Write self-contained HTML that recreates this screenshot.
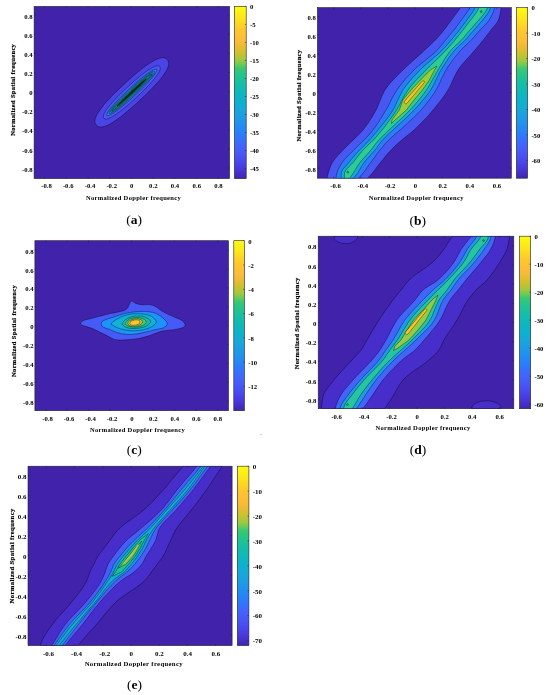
<!DOCTYPE html>
<html><head><meta charset="utf-8"><title>Figure</title>
<style>html,body{margin:0;padding:0;background:#fff}svg{display:block}</style>
</head><body>
<svg width="550" height="695" viewBox="0 0 550 695">
<rect width="550" height="695" fill="#fff"/>
<defs><linearGradient id="par" x1="0" y1="0" x2="0" y2="1"><stop offset="0%" stop-color="#fdfa10"/><stop offset="6%" stop-color="#fde81a"/><stop offset="10%" stop-color="#fdd624"/><stop offset="14%" stop-color="#fec62e"/><stop offset="20%" stop-color="#fcbb3a"/><stop offset="23.5%" stop-color="#e9bc32"/><stop offset="27%" stop-color="#cdc12e"/><stop offset="31%" stop-color="#a2c83e"/><stop offset="33.5%" stop-color="#6ecb56"/><stop offset="36%" stop-color="#38c872"/><stop offset="40%" stop-color="#24c58a"/><stop offset="43.5%" stop-color="#18c0a0"/><stop offset="50%" stop-color="#0eb8bc"/><stop offset="55%" stop-color="#0cb2cd"/><stop offset="60%" stop-color="#18a8d9"/><stop offset="67.4%" stop-color="#2094ec"/><stop offset="73.4%" stop-color="#2880fa"/><stop offset="78%" stop-color="#386efd"/><stop offset="82%" stop-color="#4661fb"/><stop offset="86%" stop-color="#4856f6"/><stop offset="90%" stop-color="#4948ed"/><stop offset="94%" stop-color="#483add"/><stop offset="97%" stop-color="#462ec8"/><stop offset="100%" stop-color="#4124b0"/></linearGradient></defs>
<clipPath id="cla"><rect x="34.1" y="6.4" width="195.5" height="172.2"/></clipPath>
<rect x="34.1" y="6.4" width="195.5" height="172.2" fill="#4122ab"/>
<g clip-path="url(#cla)" stroke="#000" stroke-opacity="0.72" stroke-width="0.5" stroke-linejoin="round">
<path d="M167.1 59.6L168.1 60.9L168.6 62L168.7 63.3L168.6 64.7L168.3 66.2L167.6 67.9L166.8 69.7L165.7 71.7L164.3 73.8L162.8 76L160.9 78.4L158.9 80.9L156.6 83.5L154 86.3L151.2 89.3L148 92.4L144.4 95.9L139.4 100.6L134.4 105.2L130.6 108.6L127.2 111.5L124.1 114.1L121.1 116.5L118.3 118.6L115.7 120.4L113.2 122.1L110.8 123.5L108.6 124.7L106.6 125.6L104.7 126.4L103 126.8L101.4 127.1L100 127.1L98.8 126.8L97.7 126.3L96.5 125.2L95.5 123.9L95 122.8L94.9 121.5L95 120.1L95.3 118.6L96 116.9L96.8 115.1L97.9 113.1L99.3 111L100.8 108.8L102.7 106.4L104.7 103.9L107 101.3L109.6 98.5L112.4 95.5L115.6 92.4L119.2 88.9L124.2 84.2L129.2 79.6L133 76.2L136.4 73.3L139.5 70.7L142.5 68.3L145.3 66.2L147.9 64.4L150.4 62.7L152.8 61.3L155 60.1L157 59.2L158.9 58.4L160.6 58L162.2 57.7L163.6 57.7L164.8 58L165.9 58.5Z" fill="#4a44e6"/>
<path d="M159.6 66.5L160.1 67.2L160.3 68L160.2 68.8L160 69.9L159.5 71L158.9 72.3L158.1 73.7L157 75.3L155.8 76.9L154.4 78.7L152.9 80.6L151.1 82.6L149.2 84.7L147.1 86.9L144.9 89.2L142.4 91.7L139.7 94.3L136.4 97.4L133.1 100.5L130.3 103L127.7 105.2L125.2 107.3L122.9 109.2L120.6 111L118.5 112.5L116.5 114L114.6 115.2L112.9 116.3L111.3 117.2L109.8 118L108.4 118.5L107.3 118.9L106.2 119L105.3 119L104.6 118.8L104 118.3L103.5 117.6L103.3 116.8L103.4 116L103.6 114.9L104.1 113.8L104.7 112.5L105.5 111.1L106.6 109.5L107.8 107.9L109.2 106.1L110.7 104.2L112.5 102.2L114.4 100.1L116.5 97.9L118.7 95.6L121.2 93.1L123.9 90.5L127.2 87.4L130.5 84.3L133.3 81.8L135.9 79.6L138.4 77.5L140.7 75.6L143 73.8L145.1 72.3L147.1 70.8L149 69.6L150.7 68.5L152.3 67.6L153.8 66.8L155.2 66.3L156.3 65.9L157.4 65.8L158.3 65.8L159 66Z" fill="#4858f4"/>
<ellipse cx="131.8" cy="92.4" rx="34" ry="4.3" transform="rotate(-42.9 131.8 92.4)" fill="#2f7cf8"/>
<ellipse cx="131.8" cy="92.4" rx="31" ry="3.3" transform="rotate(-42.9 131.8 92.4)" fill="#1f9fe0"/>
<ellipse cx="131.8" cy="92.4" rx="29" ry="2.5" transform="rotate(-42.9 131.8 92.4)" fill="#17a8b8"/>
<ellipse cx="131.8" cy="92.4" rx="27" ry="1.7" transform="rotate(-42.9 131.8 92.4)" fill="#15806a"/>
<ellipse cx="131.8" cy="92.4" rx="20" ry="0.9" transform="rotate(-42.9 131.8 92.4)" fill="#10281c"/>
</g>
<rect x="34.1" y="6.4" width="195.5" height="172.2" fill="none" stroke="#222" stroke-width="0.6"/>
<text x="46.5" y="187.9" font-size="6.7" text-anchor="middle" font-family="Liberation Serif,serif" font-weight="bold">-0.8</text>
<text x="68.2" y="187.9" font-size="6.7" text-anchor="middle" font-family="Liberation Serif,serif" font-weight="bold">-0.6</text>
<text x="90" y="187.9" font-size="6.7" text-anchor="middle" font-family="Liberation Serif,serif" font-weight="bold">-0.4</text>
<text x="111.7" y="187.9" font-size="6.7" text-anchor="middle" font-family="Liberation Serif,serif" font-weight="bold">-0.2</text>
<text x="131.6" y="187.9" font-size="6.7" text-anchor="middle" font-family="Liberation Serif,serif" font-weight="bold">0</text>
<text x="153.3" y="187.9" font-size="6.7" text-anchor="middle" font-family="Liberation Serif,serif" font-weight="bold">0.2</text>
<text x="175" y="187.9" font-size="6.7" text-anchor="middle" font-family="Liberation Serif,serif" font-weight="bold">0.4</text>
<text x="196.8" y="187.9" font-size="6.7" text-anchor="middle" font-family="Liberation Serif,serif" font-weight="bold">0.6</text>
<text x="218.5" y="187.9" font-size="6.7" text-anchor="middle" font-family="Liberation Serif,serif" font-weight="bold">0.8</text>
<text x="32.6" y="171.6" font-size="6.7" text-anchor="end" font-family="Liberation Serif,serif" font-weight="bold">-0.8</text>
<text x="32.6" y="152.5" font-size="6.7" text-anchor="end" font-family="Liberation Serif,serif" font-weight="bold">-0.6</text>
<text x="32.6" y="133.4" font-size="6.7" text-anchor="end" font-family="Liberation Serif,serif" font-weight="bold">-0.4</text>
<text x="32.6" y="114.2" font-size="6.7" text-anchor="end" font-family="Liberation Serif,serif" font-weight="bold">-0.2</text>
<text x="32.6" y="95.1" font-size="6.7" text-anchor="end" font-family="Liberation Serif,serif" font-weight="bold">0</text>
<text x="32.6" y="76" font-size="6.7" text-anchor="end" font-family="Liberation Serif,serif" font-weight="bold">0.2</text>
<text x="32.6" y="56.8" font-size="6.7" text-anchor="end" font-family="Liberation Serif,serif" font-weight="bold">0.4</text>
<text x="32.6" y="37.7" font-size="6.7" text-anchor="end" font-family="Liberation Serif,serif" font-weight="bold">0.6</text>
<text x="32.6" y="18.6" font-size="6.7" text-anchor="end" font-family="Liberation Serif,serif" font-weight="bold">0.8</text>
<path d="M44.5 178.6v-1.6M44.5 6.4v1.6M66.2 178.6v-1.6M66.2 6.4v1.6M88 178.6v-1.6M88 6.4v1.6M109.7 178.6v-1.6M109.7 6.4v1.6M131.4 178.6v-1.6M131.4 6.4v1.6M153.1 178.6v-1.6M153.1 6.4v1.6M174.8 178.6v-1.6M174.8 6.4v1.6M196.6 178.6v-1.6M196.6 6.4v1.6M218.3 178.6v-1.6M218.3 6.4v1.6M34.1 168.1h1.6M229.6 168.1h-1.6M34.1 149h1.6M229.6 149h-1.6M34.1 129.9h1.6M229.6 129.9h-1.6M34.1 110.7h1.6M229.6 110.7h-1.6M34.1 91.6h1.6M229.6 91.6h-1.6M34.1 72.5h1.6M229.6 72.5h-1.6M34.1 53.3h1.6M229.6 53.3h-1.6M34.1 34.2h1.6M229.6 34.2h-1.6M34.1 15.1h1.6M229.6 15.1h-1.6" stroke="#222" stroke-width="0.5" fill="none"/>
<text x="133.5" y="200" font-size="6.5" text-anchor="middle" letter-spacing="0.32" font-family="Liberation Serif,serif" font-weight="bold">Normalized Doppler frequency</text>
<text transform="translate(15.2 89.8) rotate(-90)" font-size="6.5" text-anchor="middle" letter-spacing="0.32" stroke="#000" stroke-width="0.18" font-family="Liberation Serif,serif" font-weight="bold">Normalized Spatial frequency</text>
<rect x="234.4" y="6.4" width="11.8" height="172.2" fill="url(#par)" stroke="#222" stroke-width="0.6"/>
<text x="250" y="9.2" font-size="6.7" font-family="Liberation Serif,serif" font-weight="bold">0</text>
<text x="250" y="27.2" font-size="6.7" font-family="Liberation Serif,serif" font-weight="bold">-5</text>
<text x="250" y="45.2" font-size="6.7" font-family="Liberation Serif,serif" font-weight="bold">-10</text>
<text x="250" y="63.2" font-size="6.7" font-family="Liberation Serif,serif" font-weight="bold">-15</text>
<text x="250" y="81.3" font-size="6.7" font-family="Liberation Serif,serif" font-weight="bold">-20</text>
<text x="250" y="99.3" font-size="6.7" font-family="Liberation Serif,serif" font-weight="bold">-25</text>
<text x="250" y="117.3" font-size="6.7" font-family="Liberation Serif,serif" font-weight="bold">-30</text>
<text x="250" y="135.3" font-size="6.7" font-family="Liberation Serif,serif" font-weight="bold">-35</text>
<text x="250" y="153.3" font-size="6.7" font-family="Liberation Serif,serif" font-weight="bold">-40</text>
<text x="250" y="171.3" font-size="6.7" font-family="Liberation Serif,serif" font-weight="bold">-45</text>
<path d="M246.2 6.4h-1.4M246.2 24.4h-1.4M246.2 42.4h-1.4M246.2 60.4h-1.4M246.2 78.5h-1.4M246.2 96.5h-1.4M246.2 114.5h-1.4M246.2 132.5h-1.4M246.2 150.5h-1.4M246.2 168.5h-1.4" stroke="#222" stroke-width="0.5" fill="none"/>
<text x="134.2" y="224.3" font-size="13.5" text-anchor="middle" font-family="Liberation Serif,serif">(<tspan font-weight="bold">a</tspan>)</text>
<clipPath id="clb"><rect x="317.4" y="7.6" width="193.9" height="170.6"/></clipPath>
<rect x="317.4" y="7.6" width="193.9" height="170.6" fill="#4122ab"/>
<g clip-path="url(#clb)" stroke="#000" stroke-opacity="0.72" stroke-width="0.5" stroke-linejoin="round">
<path d="M466.8 -2L465 0.7L463.2 3.4L461.4 6.2L459.6 8.9L457.8 11.6L455.8 14.3L453.7 17.1L451.7 19.8L449.6 22.5L447.6 25.2L445.6 28L443.4 30.7L441.2 33.4L438.9 36.1L436.5 38.9L433.8 41.6L431 44.3L428.1 47L425.1 49.8L422.2 52.5L419.2 55.2L416.1 57.9L413 60.7L410 63.4L407 66.1L404.2 68.8L401.4 71.6L398.7 74.3L395.9 77L393.3 79.7L390.7 82.5L388.4 85.2L386.4 87.9L384.6 90.6L383.2 93.4L381.9 96.1L380.8 98.8L379.7 101.5L378.6 104.3L377.5 107L376.2 109.7L374.7 112.4L373.1 115.2L371.5 117.9L369.8 120.6L368 123.3L366 126.1L364 128.8L361.7 131.5L359.1 134.2L356.3 137L353.5 139.7L350.7 142.4L347.9 145.1L345.1 147.9L342.5 150.6L339.9 153.3L337.3 156L335 158.8L333 161.5L331.5 164.2L330.3 166.9L329.3 169.7L328.4 172.4L327.7 175.1L327 177.8L326.4 180.6L325.7 183.3L325.1 186L361.1 186L363.5 183.3L365.8 180.6L368.1 177.8L370.5 175.1L372.8 172.4L375 169.7L377 166.9L379.1 164.2L381.3 161.5L383.5 158.8L385.7 156L388 153.3L390.5 150.6L393.1 147.9L396 145.1L399 142.4L402.1 139.7L405.4 137L408.9 134.2L412.3 131.5L415.3 128.8L418.2 126.1L420.9 123.3L423.5 120.6L426.1 117.9L428.6 115.2L430.9 112.4L433.2 109.7L435.5 107L437.7 104.3L439.9 101.5L442 98.8L444 96.1L445.9 93.4L447.6 90.6L449.2 87.9L450.6 85.2L451.8 82.5L453 79.7L454.3 77L455.6 74.3L457.1 71.6L458.8 68.8L460.8 66.1L463 63.4L465.4 60.7L467.9 57.9L470.4 55.2L472.8 52.5L475.2 49.8L477.5 47L479.8 44.3L482 41.6L484.2 38.9L486.3 36.1L488.4 33.4L490.5 30.7L492.6 28L495 25.2L497.1 22.5L498.5 19.8L499.4 17.1L500.1 14.3L500.6 11.6L500.9 8.9L501.2 6.2L501.5 3.4L501.7 0.7L502 -2Z" fill="#4856f2"/>
<path d="M475.8 -2L474.2 0.7L472.5 3.4L470.9 6.2L469.3 8.9L467.6 11.6L465.7 14.3L463.6 17.1L461.5 19.8L459.6 22.5L457.6 25.2L455.6 28L453.5 30.7L451.2 33.4L448.9 36.1L446.6 38.9L444.4 41.6L442.2 44.3L440 47L437.6 49.8L434.8 52.5L431.7 55.2L428.4 57.9L424.9 60.7L421.5 63.4L418.2 66.1L415.2 68.8L412.5 71.6L409.9 74.3L407.3 77L404.9 79.7L402.6 82.5L400.5 85.2L398.4 87.9L396.6 90.6L394.9 93.4L393.4 96.1L391.9 98.8L390.5 101.5L389.2 104.3L387.7 107L386.2 109.7L384.5 112.4L382.9 115.2L381.2 117.9L379.5 120.6L377.8 123.3L375.9 126.1L373.9 128.8L371.8 131.5L369.5 134.2L367 137L364.4 139.7L361.7 142.4L358.9 145.1L356.1 147.9L353.4 150.6L350.7 153.3L347.9 156L345.3 158.8L343 161.5L341.1 164.2L339.5 166.9L338.1 169.7L337.1 172.4L336.5 175.1L336 177.8L335.5 180.6L335.1 183.3L334.6 186L351.9 186L354.3 183.3L356.6 180.6L358.9 177.8L361.3 175.1L363.6 172.4L365.6 169.7L367.5 166.9L369.4 164.2L371.4 161.5L373.4 158.8L375.4 156L377.4 153.3L379.5 150.6L381.7 147.9L384 145.1L386.3 142.4L388.9 139.7L391.9 137L395.1 134.2L398.3 131.5L401.3 128.8L404.4 126.1L407.4 123.3L410.4 120.6L413.3 117.9L416.1 115.2L418.8 112.4L421.3 109.7L423.6 107L425.8 104.3L428 101.5L430.1 98.8L432 96.1L433.9 93.4L435.6 90.6L437.2 87.9L438.6 85.2L439.9 82.5L441.1 79.7L442.4 77L443.7 74.3L445.1 71.6L446.7 68.8L448.4 66.1L450.3 63.4L452.2 60.7L454.3 57.9L456.5 55.2L458.7 52.5L461.1 49.8L463.8 47L466.8 44.3L469.7 41.6L472.3 38.9L474.7 36.1L477 33.4L479.4 30.7L481.9 28L484.7 25.2L487.3 22.5L489.3 19.8L490.9 17.1L492.3 14.3L493.4 11.6L494.2 8.9L495 6.2L495.7 3.4L496.5 0.7L497.2 -2Z" fill="#2c7bfb"/>
<path d="M480.2 -2L478.7 0.7L477.3 3.4L475.9 6.2L474.5 8.9L473 11.6L471.1 14.3L469 17.1L467 19.8L465 22.5L463 25.2L461 28L458.9 30.7L456.7 33.4L454.4 36.1L452.2 38.9L449.9 41.6L447.5 44.3L445.2 47L442.6 49.8L439.8 52.5L436.8 55.2L433.6 57.9L430.4 60.7L427.2 63.4L424.1 66.1L421.1 68.8L418.5 71.6L415.9 74.3L413.3 77L410.9 79.7L408.6 82.5L406.4 85.2L404.4 87.9L402.6 90.6L401.1 93.4L399.7 96.1L398.5 98.8L397.2 101.5L396 104.3L394.7 107L393.2 109.7L391.5 112.4L389.6 115.2L387.6 117.9L385.5 120.6L383.4 123.3L381.2 126.1L379 128.8L376.8 131.5L374.5 134.2L372.2 137L369.8 139.7L367.2 142.4L364.4 145.1L361.7 147.9L359.1 150.6L356.6 153.3L354.2 156L351.8 158.8L349.6 161.5L347.4 164.2L344.9 166.9L342.6 169.7L341.4 172.4L341.2 175.1L341.2 177.8L341.1 180.6L341.1 183.3L341 186L347.2 186L349.4 183.3L351.6 180.6L353.7 177.8L356 175.1L358 172.4L359.7 169.7L361.2 166.9L362.9 164.2L364.8 161.5L367.1 158.8L369.6 156L372.1 153.3L374.5 150.6L376.7 147.9L378.6 145.1L380.6 142.4L382.9 139.7L385.5 137L388.4 134.2L391.4 131.5L394.3 128.8L397.2 126.1L400.2 123.3L403.1 120.6L406.1 117.9L408.9 115.2L411.7 112.4L414.3 109.7L416.8 107L419.3 104.3L421.7 101.5L424 98.8L426.2 96.1L428.3 93.4L430.2 90.6L431.9 87.9L433.4 85.2L434.7 82.5L436 79.7L437.3 77L438.7 74.3L440.1 71.6L441.7 68.8L443.4 66.1L445.1 63.4L446.9 60.7L448.7 57.9L450.7 55.2L452.8 52.5L455.1 49.8L457.8 47L460.7 44.3L463.7 41.6L466.4 38.9L468.8 36.1L471.1 33.4L473.4 30.7L475.8 28L478.2 25.2L480.5 22.5L482.8 19.8L485 17.1L487.2 14.3L489 11.6L490.1 8.9L490.9 6.2L491.9 3.4L492.8 0.7L493.7 -2Z" fill="#17a9d8"/>
<path d="M483 -2L481.8 0.7L480.6 3.4L479.4 6.2L478.3 8.9L476.9 11.6L475.1 14.3L472.9 17.1L470.8 19.8L468.7 22.5L466.6 25.2L464.6 28L462.5 30.7L460.3 33.4L458.2 36.1L455.9 38.9L453.7 41.6L451.3 44.3L448.9 47L446.4 49.8L443.8 52.5L441.1 55.2L438.3 57.9L435.5 60.7L432.6 63.4L429.8 66.1L427.1 68.8L424.5 71.6L421.9 74.3L419.2 77L416.6 79.7L414.1 82.5L411.7 85.2L409.5 87.9L407.6 90.6L405.8 93.4L404.2 96.1L402.8 98.8L401.4 101.5L399.9 104.3L398.4 107L396.8 109.7L395 112.4L393.2 115.2L391.2 117.9L389.2 120.6L387.2 123.3L385.1 126.1L383 128.8L380.8 131.5L378.5 134.2L376.2 137L373.7 139.7L371 142.4L368 145.1L365.1 147.9L362.5 150.6L360.2 153.3L358 156L355.9 158.8L353.8 161.5L351.5 164.2L348.7 166.9L346.1 169.7L344.6 172.4L344.4 175.1L344.4 177.8L344.3 180.6L344.3 183.3L344.2 186L344.7 186L346.5 183.3L348.3 180.6L350.1 177.8L351.9 175.1L353.7 172.4L355.4 169.7L357 166.9L358.8 164.2L360.8 161.5L363.1 158.8L365.6 156L368.1 153.3L370.5 150.6L372.7 147.9L374.7 145.1L376.8 142.4L379.1 139.7L381.7 137L384.5 134.2L387.4 131.5L390.3 128.8L393.2 126.1L396.1 123.3L399.1 120.6L402.1 117.9L404.9 115.2L407.7 112.4L410.3 109.7L412.7 107L415.2 104.3L417.5 101.5L419.8 98.8L422 96.1L424 93.4L426 90.6L427.8 87.9L429.4 85.2L431 82.5L432.5 79.7L434 77L435.5 74.3L437.1 71.6L438.7 68.8L440.3 66.1L442 63.4L443.6 60.7L445.3 57.9L447.2 55.2L449.1 52.5L451.3 49.8L453.9 47L456.9 44.3L459.9 41.6L462.5 38.9L464.9 36.1L467.1 33.4L469.4 30.7L471.8 28L474.2 25.2L476.6 22.5L479 19.8L481.3 17.1L483.6 14.3L485.6 11.6L487.1 8.9L488.4 6.2L489.8 3.4L491.1 0.7L492.5 -2Z" fill="#2ecb92"/>
<path d="M437 66L434.5 70L429.4 80L422.4 90L414 100L406.4 110L395 120L391.5 123.5L392 120L399.4 110L402.8 100L411 90L420.4 80L430.4 70Z" fill="#9bcd37"/>
<circle cx="347.8" cy="172.2" r="0.9" fill="#4aa84a"/><circle cx="481.2" cy="11.6" r="0.9" fill="#4aa84a"/>
<path d="M407 103.2L408.9 101L410.8 98.7L412.7 96.4L414.6 94.2L416.5 91.9L418.4 89.6L420.3 87.3L422.2 85.1L424.1 82.8L424.4 82.3L424.4 81.8L424.2 81.3L423.8 80.9L423.2 80.8L422.7 80.9L422.3 81.2L420.3 83.4L418.4 85.6L416.4 87.9L414.4 90.1L412.5 92.3L410.5 94.5L408.5 96.7L406.6 98.9L404.6 101.2L404.3 101.8L404.2 102.5L404.5 103.1L405.1 103.6L405.7 103.8L406.4 103.7Z" fill="#ffc328"/>
</g>
<rect x="317.4" y="7.6" width="193.9" height="170.6" fill="none" stroke="#222" stroke-width="0.6"/>
<text x="335.6" y="188.3" font-size="6.7" text-anchor="middle" font-family="Liberation Serif,serif" font-weight="bold">-0.6</text>
<text x="362.8" y="188.3" font-size="6.7" text-anchor="middle" font-family="Liberation Serif,serif" font-weight="bold">-0.4</text>
<text x="390" y="188.3" font-size="6.7" text-anchor="middle" font-family="Liberation Serif,serif" font-weight="bold">-0.2</text>
<text x="415.4" y="188.3" font-size="6.7" text-anchor="middle" font-family="Liberation Serif,serif" font-weight="bold">0</text>
<text x="442.6" y="188.3" font-size="6.7" text-anchor="middle" font-family="Liberation Serif,serif" font-weight="bold">0.2</text>
<text x="469.8" y="188.3" font-size="6.7" text-anchor="middle" font-family="Liberation Serif,serif" font-weight="bold">0.4</text>
<text x="497" y="188.3" font-size="6.7" text-anchor="middle" font-family="Liberation Serif,serif" font-weight="bold">0.6</text>
<text x="315.8" y="171.7" font-size="6.7" text-anchor="end" font-family="Liberation Serif,serif" font-weight="bold">-0.8</text>
<text x="315.8" y="152.8" font-size="6.7" text-anchor="end" font-family="Liberation Serif,serif" font-weight="bold">-0.6</text>
<text x="315.8" y="133.8" font-size="6.7" text-anchor="end" font-family="Liberation Serif,serif" font-weight="bold">-0.4</text>
<text x="315.8" y="114.9" font-size="6.7" text-anchor="end" font-family="Liberation Serif,serif" font-weight="bold">-0.2</text>
<text x="315.8" y="95.9" font-size="6.7" text-anchor="end" font-family="Liberation Serif,serif" font-weight="bold">0</text>
<text x="315.8" y="76.9" font-size="6.7" text-anchor="end" font-family="Liberation Serif,serif" font-weight="bold">0.2</text>
<text x="315.8" y="58" font-size="6.7" text-anchor="end" font-family="Liberation Serif,serif" font-weight="bold">0.4</text>
<text x="315.8" y="39" font-size="6.7" text-anchor="end" font-family="Liberation Serif,serif" font-weight="bold">0.6</text>
<text x="315.8" y="20.1" font-size="6.7" text-anchor="end" font-family="Liberation Serif,serif" font-weight="bold">0.8</text>
<path d="M333.6 178.2v-1.6M333.6 7.6v1.6M360.8 178.2v-1.6M360.8 7.6v1.6M388 178.2v-1.6M388 7.6v1.6M415.2 178.2v-1.6M415.2 7.6v1.6M442.4 178.2v-1.6M442.4 7.6v1.6M469.6 178.2v-1.6M469.6 7.6v1.6M496.8 178.2v-1.6M496.8 7.6v1.6M317.4 168.2h1.6M511.3 168.2h-1.6M317.4 149.3h1.6M511.3 149.3h-1.6M317.4 130.3h1.6M511.3 130.3h-1.6M317.4 111.4h1.6M511.3 111.4h-1.6M317.4 92.4h1.6M511.3 92.4h-1.6M317.4 73.4h1.6M511.3 73.4h-1.6M317.4 54.5h1.6M511.3 54.5h-1.6M317.4 35.5h1.6M511.3 35.5h-1.6M317.4 16.6h1.6M511.3 16.6h-1.6" stroke="#222" stroke-width="0.5" fill="none"/>
<text x="416.2" y="200" font-size="6.5" text-anchor="middle" letter-spacing="0.32" font-family="Liberation Serif,serif" font-weight="bold">Normalized Doppler frequency</text>
<text transform="translate(300.5 95.6) rotate(-90)" font-size="6.5" text-anchor="middle" letter-spacing="0.32" stroke="#000" stroke-width="0.18" font-family="Liberation Serif,serif" font-weight="bold">Normalized Spatial frequency</text>
<rect x="516.4" y="7.6" width="11.2" height="170.6" fill="url(#par)" stroke="#222" stroke-width="0.6"/>
<text x="531.4" y="10.4" font-size="6.7" font-family="Liberation Serif,serif" font-weight="bold">0</text>
<text x="531.4" y="35.9" font-size="6.7" font-family="Liberation Serif,serif" font-weight="bold">-10</text>
<text x="531.4" y="61.3" font-size="6.7" font-family="Liberation Serif,serif" font-weight="bold">-20</text>
<text x="531.4" y="86.8" font-size="6.7" font-family="Liberation Serif,serif" font-weight="bold">-30</text>
<text x="531.4" y="112.3" font-size="6.7" font-family="Liberation Serif,serif" font-weight="bold">-40</text>
<text x="531.4" y="137.7" font-size="6.7" font-family="Liberation Serif,serif" font-weight="bold">-50</text>
<text x="531.4" y="163.2" font-size="6.7" font-family="Liberation Serif,serif" font-weight="bold">-60</text>
<path d="M527.6 7.6h-1.4M527.6 33.1h-1.4M527.6 58.5h-1.4M527.6 84h-1.4M527.6 109.5h-1.4M527.6 134.9h-1.4M527.6 160.4h-1.4" stroke="#222" stroke-width="0.5" fill="none"/>
<text x="417.8" y="224.6" font-size="13.5" text-anchor="middle" font-family="Liberation Serif,serif">(<tspan font-weight="bold">b</tspan>)</text>
<clipPath id="clc"><rect x="34.9" y="240.7" width="193.6" height="170"/></clipPath>
<rect x="34.9" y="240.7" width="193.6" height="170" fill="#4122ab"/>
<g clip-path="url(#clc)" stroke="#000" stroke-opacity="0.72" stroke-width="0.5" stroke-linejoin="round">
<path d="M80.6 323.1C81 322.3 82.4 321 84.2 320.3C86 319.5 88.5 319.1 91.3 318.4C94 317.7 97.6 316.8 100.7 316C103.9 315.2 107 314.3 110.2 313.6C113.3 312.9 116.9 312.5 119.6 311.7C122.4 311 125.1 310.3 126.7 308.9C128.4 307.6 128.7 305 129.6 303.7C130.4 302.4 131 301.2 131.9 301.1C132.8 301 133.5 302.4 135 303C136.5 303.6 138.4 304.4 140.9 304.7C143.5 304.9 147.8 304.3 150.4 304.7C152.9 305.1 154.3 305.9 156.3 307C158.3 308.1 160 310 162.2 311.3C164.4 312.6 166.9 313.7 169.3 314.8C171.7 315.9 174.2 316.9 176.4 317.9C178.6 318.9 180.8 319.6 182.3 320.7C183.8 321.9 185.1 323.8 185.1 325C185.1 326.2 184.1 327 182.3 327.8C180.4 328.6 177 329.2 174 329.7C171.1 330.2 167.3 330.2 164.6 330.7C161.8 331.1 160.2 331.6 157.5 332.6C154.7 333.5 151.2 335.1 148 336.1C144.9 337.1 141.7 337.9 138.6 338.5C135.4 339.1 132.1 339.4 129.1 339.6C126.1 339.9 123.4 340.2 120.8 340.1C118.3 340 115.9 339.8 113.7 339.2C111.6 338.5 110 337.2 107.8 336.1C105.7 335 103.1 333.7 100.7 332.6C98.4 331.4 96 330 93.6 329C91.3 328 88.5 327.3 86.5 326.6C84.6 326 82.8 325.6 81.8 325C80.8 324.4 80.2 323.9 80.6 323.1Z" fill="#465af8"/>
<path d="M101.2 324C101.2 323.2 101.6 322.2 102.4 321.4C103.2 320.7 104.2 320.2 105.9 319.6C107.6 318.9 109.5 318.4 112.6 317.4C115.6 316.4 120.4 314.6 124.4 313.6C128.3 312.7 132.3 312.1 136.2 311.7C140.1 311.4 144.7 311.4 148 311.7C151.4 312.1 153.7 312.5 156.3 313.6C158.8 314.7 161.5 316.7 163.4 318.4C165.2 320.1 167.4 322.2 167.4 323.8C167.4 325.4 165.4 326.8 163.4 327.8C161.3 328.8 158.1 329 155.1 329.7C152.2 330.4 148.8 331.4 145.7 332.1C142.5 332.8 139.3 333.6 136.2 334C133 334.4 129.9 334.7 126.7 334.4C123.6 334.2 120.1 333.4 117.3 332.6C114.4 331.7 111.7 330.2 109.7 329.5C107.7 328.7 106.7 328.6 105.5 328.1C104.2 327.5 103.1 327.1 102.4 326.4C101.7 325.7 101.2 324.9 101.2 324Z" fill="#1c92fa"/>
<path d="M111.4 323.1C112.6 321.6 117.5 318.7 120.8 317.2C124.2 315.7 127.7 314.6 131.5 314.1C135.2 313.6 139.9 313.7 143.3 314.1C146.6 314.5 149.4 315.2 151.6 316.5C153.7 317.8 156.5 320.1 156.3 321.9C156.1 323.7 152.9 326 150.4 327.4C147.8 328.7 144.3 329.6 140.9 330.2C137.6 330.7 133.6 330.9 130.3 330.7C126.9 330.5 123.6 329.8 120.8 329C118.1 328.2 115.3 326.9 113.7 325.9C112.2 324.9 110.2 324.6 111.4 323.1Z" fill="#12b1d6"/>
<path d="M122.2 323.3C122.7 322 125.2 319.6 127.2 318.4C129.2 317.2 131.6 316.6 134.3 316.2C137 315.9 140.8 315.9 143.3 316.5C145.8 317 148 318.6 149.2 319.6C150.4 320.5 151 321.2 150.4 322.4C149.8 323.5 147.8 325.4 145.7 326.4C143.5 327.4 140.1 328 137.4 328.3C134.7 328.6 131.7 328.6 129.6 328.3C127.4 328 125.6 327.2 124.4 326.4C123.2 325.6 121.8 324.7 122.2 323.3Z" fill="#1fb8a8"/>
<path d="M125.3 323.3C125.8 322.3 127.4 320.3 129.1 319.3C130.8 318.4 133.3 317.8 135.5 317.7C137.7 317.5 140.3 317.7 142.1 318.4C143.9 319 146.3 320.5 146.4 321.7C146.4 322.9 144.2 324.8 142.3 325.7C140.5 326.6 137.6 327 135.5 327.1C133.4 327.3 131.1 327 129.6 326.6C128.1 326.3 127.2 325.8 126.5 325.2C125.8 324.7 124.9 324.3 125.3 323.3Z" fill="#4cc878"/>
<ellipse cx="135.2" cy="322.6" rx="7.5" ry="3.7" transform="rotate(-8 135.2 322.6)" fill="#b4cc3c"/>
<ellipse cx="135" cy="322.6" rx="5.2" ry="2.6" transform="rotate(-8 135 322.6)" fill="#fcc636"/>
</g>
<rect x="34.9" y="240.7" width="193.6" height="170" fill="none" stroke="#222" stroke-width="0.6"/>
<text x="47.6" y="421" font-size="6.7" text-anchor="middle" font-family="Liberation Serif,serif" font-weight="bold">-0.8</text>
<text x="69.1" y="421" font-size="6.7" text-anchor="middle" font-family="Liberation Serif,serif" font-weight="bold">-0.6</text>
<text x="90.6" y="421" font-size="6.7" text-anchor="middle" font-family="Liberation Serif,serif" font-weight="bold">-0.4</text>
<text x="112.1" y="421" font-size="6.7" text-anchor="middle" font-family="Liberation Serif,serif" font-weight="bold">-0.2</text>
<text x="131.8" y="421" font-size="6.7" text-anchor="middle" font-family="Liberation Serif,serif" font-weight="bold">0</text>
<text x="153.3" y="421" font-size="6.7" text-anchor="middle" font-family="Liberation Serif,serif" font-weight="bold">0.2</text>
<text x="174.8" y="421" font-size="6.7" text-anchor="middle" font-family="Liberation Serif,serif" font-weight="bold">0.4</text>
<text x="196.3" y="421" font-size="6.7" text-anchor="middle" font-family="Liberation Serif,serif" font-weight="bold">0.6</text>
<text x="217.8" y="421" font-size="6.7" text-anchor="middle" font-family="Liberation Serif,serif" font-weight="bold">0.8</text>
<text x="33.5" y="404.8" font-size="6.7" text-anchor="end" font-family="Liberation Serif,serif" font-weight="bold">-0.8</text>
<text x="33.5" y="385.9" font-size="6.7" text-anchor="end" font-family="Liberation Serif,serif" font-weight="bold">-0.6</text>
<text x="33.5" y="367" font-size="6.7" text-anchor="end" font-family="Liberation Serif,serif" font-weight="bold">-0.4</text>
<text x="33.5" y="348.1" font-size="6.7" text-anchor="end" font-family="Liberation Serif,serif" font-weight="bold">-0.2</text>
<text x="33.5" y="329.2" font-size="6.7" text-anchor="end" font-family="Liberation Serif,serif" font-weight="bold">0</text>
<text x="33.5" y="310.3" font-size="6.7" text-anchor="end" font-family="Liberation Serif,serif" font-weight="bold">0.2</text>
<text x="33.5" y="291.4" font-size="6.7" text-anchor="end" font-family="Liberation Serif,serif" font-weight="bold">0.4</text>
<text x="33.5" y="272.5" font-size="6.7" text-anchor="end" font-family="Liberation Serif,serif" font-weight="bold">0.6</text>
<text x="33.5" y="253.6" font-size="6.7" text-anchor="end" font-family="Liberation Serif,serif" font-weight="bold">0.8</text>
<path d="M45.6 410.7v-1.6M45.6 240.7v1.6M67.1 410.7v-1.6M67.1 240.7v1.6M88.6 410.7v-1.6M88.6 240.7v1.6M110.1 410.7v-1.6M110.1 240.7v1.6M131.6 410.7v-1.6M131.6 240.7v1.6M153.1 410.7v-1.6M153.1 240.7v1.6M174.6 410.7v-1.6M174.6 240.7v1.6M196.1 410.7v-1.6M196.1 240.7v1.6M217.6 410.7v-1.6M217.6 240.7v1.6M34.9 401.3h1.6M228.5 401.3h-1.6M34.9 382.4h1.6M228.5 382.4h-1.6M34.9 363.5h1.6M228.5 363.5h-1.6M34.9 344.6h1.6M228.5 344.6h-1.6M34.9 325.7h1.6M228.5 325.7h-1.6M34.9 306.8h1.6M228.5 306.8h-1.6M34.9 287.9h1.6M228.5 287.9h-1.6M34.9 269h1.6M228.5 269h-1.6M34.9 250.1h1.6M228.5 250.1h-1.6" stroke="#222" stroke-width="0.5" fill="none"/>
<text x="137.5" y="431.8" font-size="6.5" text-anchor="middle" letter-spacing="0.32" font-family="Liberation Serif,serif" font-weight="bold">Normalized Doppler frequency</text>
<text transform="translate(16.2 331) rotate(-90)" font-size="6.5" text-anchor="middle" letter-spacing="0.32" stroke="#000" stroke-width="0.18" font-family="Liberation Serif,serif" font-weight="bold">Normalized Spatial frequency</text>
<rect x="233.8" y="240.7" width="10.6" height="170" fill="url(#par)" stroke="#222" stroke-width="0.6"/>
<text x="248.2" y="243.5" font-size="6.7" font-family="Liberation Serif,serif" font-weight="bold">0</text>
<text x="248.2" y="267.8" font-size="6.7" font-family="Liberation Serif,serif" font-weight="bold">-2</text>
<text x="248.2" y="292.1" font-size="6.7" font-family="Liberation Serif,serif" font-weight="bold">-4</text>
<text x="248.2" y="316.4" font-size="6.7" font-family="Liberation Serif,serif" font-weight="bold">-6</text>
<text x="248.2" y="340.6" font-size="6.7" font-family="Liberation Serif,serif" font-weight="bold">-8</text>
<text x="248.2" y="364.9" font-size="6.7" font-family="Liberation Serif,serif" font-weight="bold">-10</text>
<text x="248.2" y="389.2" font-size="6.7" font-family="Liberation Serif,serif" font-weight="bold">-12</text>
<path d="M244.4 240.7h-1.4M244.4 265h-1.4M244.4 289.3h-1.4M244.4 313.6h-1.4M244.4 337.8h-1.4M244.4 362.1h-1.4M244.4 386.4h-1.4" stroke="#222" stroke-width="0.5" fill="none"/>
<text x="134.2" y="453.8" font-size="13.5" text-anchor="middle" font-family="Liberation Serif,serif">(<tspan font-weight="bold">c</tspan>)</text>
<clipPath id="cld"><rect x="318.2" y="236.2" width="195.6" height="172.5"/></clipPath>
<rect x="318.2" y="236.2" width="195.6" height="172.5" fill="#4122ab"/>
<g clip-path="url(#cld)" stroke="#000" stroke-opacity="0.72" stroke-width="0.5" stroke-linejoin="round">
<path d="M459.5 227L457.4 229.8L455.3 232.5L453.3 235.3L451.2 238.1L449.3 240.8L447.5 243.6L445.8 246.4L443.9 249.1L441.8 251.9L439.7 254.7L437.3 257.4L434.8 260.2L431.8 263L428.3 265.8L424.3 268.5L420.3 271.3L416.2 274.1L412.6 276.8L409.4 279.6L406.9 282.4L404.7 285.1L402.6 287.9L400.5 290.7L398.2 293.4L396 296.2L393.8 299L391.7 301.7L389.7 304.5L387.7 307.3L385.7 310L383.8 312.8L381.9 315.6L380.1 318.3L378.3 321.1L376.6 323.9L374.9 326.7L373.2 329.4L371.6 332.2L370 335L368.4 337.7L366.7 340.5L365.1 343.3L363.6 346L361.8 348.8L359.8 351.6L357.4 354.3L354.7 357.1L352.1 359.9L349.6 362.6L347 365.4L344.4 368.2L341.8 370.9L339.3 373.7L336.9 376.5L334.6 379.2L332.4 382L330.1 384.8L327.9 387.6L325.9 390.3L324.3 393.1L323.2 395.9L322.6 398.6L322.2 401.4L321.8 404.2L321.5 406.9L321.3 409.7L321.1 412.5L320.9 415.2L320.7 418L379 418L380.7 415.2L382.5 412.5L384.2 409.7L385.9 406.9L387.7 404.2L389.5 401.4L391.3 398.6L393.1 395.9L394.8 393.1L396.3 390.3L397.9 387.6L399.5 384.8L401.4 382L403.7 379.2L406.6 376.5L410 373.7L413.9 370.9L418 368.2L422 365.4L425.8 362.6L429.1 359.9L432.3 357.1L435.3 354.3L437.8 351.6L439.7 348.8L441.2 346L442.4 343.3L443.7 340.5L445.3 337.7L447.1 335L448.9 332.2L450.8 329.4L452.7 326.7L454.6 323.9L456.3 321.1L458 318.3L459.5 315.6L460.9 312.8L462.3 310L463.7 307.3L465.2 304.5L466.9 301.7L468.7 299L470.7 296.2L473 293.4L475.4 290.7L478.2 287.9L481.4 285.1L484.6 282.4L487.4 279.6L489.7 276.8L491.8 274.1L493.9 271.3L495.7 268.5L497.5 265.8L499.3 263L501 260.2L502.7 257.4L504.4 254.7L505.8 251.9L507 249.1L507.7 246.4L508.4 243.6L508.9 240.8L509.5 238.1L509.9 235.3L510.4 232.5L510.9 229.8L511.4 227Z" fill="#472dca"/>
<ellipse cx="345.7" cy="236.2" rx="12.2" ry="7.5" fill="#472dca"/>
<ellipse cx="486.5" cy="408.7" rx="15" ry="8" fill="#472dca"/>
<path d="M477.6 227L475.7 229.8L473.7 232.5L471.8 235.3L469.9 238.1L467.8 240.8L465.5 243.6L463.3 246.4L461.3 249.1L459.7 251.9L458.2 254.7L456.8 257.4L455.2 260.2L453.3 263L451.3 265.8L449.1 268.5L446.8 271.3L444.2 274.1L441.5 276.8L438.5 279.6L434.8 282.4L430.2 285.1L425.7 287.9L422.3 290.7L419.9 293.4L417.9 296.2L415.8 299L413.5 301.7L410.9 304.5L408.3 307.3L405.6 310L402.9 312.8L400.4 315.6L398.2 318.3L396.3 321.1L394.5 323.9L393 326.7L391.5 329.4L390.1 332.2L388.7 335L387.3 337.7L385.7 340.5L384.1 343.3L382.5 346L380.8 348.8L378.9 351.6L376.8 354.3L374.5 357.1L372.1 359.9L369.6 362.6L367 365.4L364.3 368.2L361.6 370.9L358.8 373.7L356.2 376.5L353.7 379.2L351.2 382L348.8 384.8L346.4 387.6L344.1 390.3L342.1 393.1L340.4 395.9L338.9 398.6L337.6 401.4L336.5 404.2L335.8 406.9L335.4 409.7L335 412.5L334.6 415.2L334.2 418L354.7 418L357.1 415.2L359.4 412.5L361.8 409.7L364.2 406.9L366.3 404.2L368.2 401.4L370.1 398.6L372 395.9L373.9 393.1L375.7 390.3L377.5 387.6L379.4 384.8L381.4 382L383.6 379.2L385.9 376.5L388.3 373.7L390.8 370.9L393.5 368.2L396.2 365.4L399.1 362.6L402.1 359.9L405.6 357.1L409.5 354.3L413.2 351.6L416.2 348.8L418.9 346L421.3 343.3L423.6 340.5L426 337.7L428.4 335L430.7 332.2L433.1 329.4L435.3 326.7L437.4 323.9L439.3 321.1L441 318.3L442.4 315.6L443.7 312.8L444.9 310L446.2 307.3L447.5 304.5L449 301.7L450.7 299L452.8 296.2L455.1 293.4L457.5 290.7L459.7 287.9L461.9 285.1L464.1 282.4L466.3 279.6L468.6 276.8L471 274.1L473.4 271.3L475.8 268.5L478.1 265.8L480.4 263L482.6 260.2L484.8 257.4L487 254.7L489.1 251.9L490.7 249.1L492.1 246.4L493.3 243.6L494.3 240.8L495 238.1L495.4 235.3L495.8 232.5L496.2 229.8L496.6 227Z" fill="#4364fb"/>
<path d="M482.1 227L480.5 229.8L478.9 232.5L477.3 235.3L475.8 238.1L473.9 240.8L471.6 243.6L469.3 246.4L467.3 249.1L465.7 251.9L464.2 254.7L462.8 257.4L461.2 260.2L459.3 263L457.3 265.8L455.1 268.5L452.8 271.3L450.3 274.1L447.7 276.8L445 279.6L442 282.4L438.7 285.1L435.4 287.9L432.3 290.7L429.4 293.4L426.7 296.2L424 299L421.3 301.7L418.7 304.5L416 307.3L413.4 310L410.9 312.8L408.5 315.6L406.2 318.3L404.2 321.1L402.4 323.9L400.7 326.7L399.2 329.4L397.6 332.2L396.1 335L394.4 337.7L392.7 340.5L390.8 343.3L388.8 346L386.8 348.8L384.9 351.6L383.1 354.3L381.2 357.1L379.1 359.9L376.8 362.6L374.3 365.4L371.7 368.2L369 370.9L366.3 373.7L363.6 376.5L361.1 379.2L358.7 382L356.3 384.8L354 387.6L351.7 390.3L349.6 393.1L347.5 395.9L345.5 398.6L343.4 401.4L341.7 404.2L340.6 406.9L339.9 409.7L339.1 412.5L338.4 415.2L337.6 418L349.6 418L351.6 415.2L353.6 412.5L355.6 409.7L357.6 406.9L359.5 404.2L361.3 401.4L363.1 398.6L364.9 395.9L366.7 393.1L368.6 390.3L370.5 387.6L372.4 384.8L374.5 382L376.6 379.2L378.8 376.5L381.2 373.7L383.6 370.9L386.1 368.2L388.7 365.4L391.4 362.6L394.1 359.9L397 357.1L400.1 354.3L403.3 351.6L406.3 348.8L409.5 346L412.5 343.3L415.5 340.5L418.3 337.7L421.2 335L424.1 332.2L426.8 329.4L429.4 326.7L431.7 323.9L433.7 321.1L435.3 318.3L436.6 315.6L437.7 312.8L438.7 310L439.7 307.3L440.8 304.5L442.1 301.7L443.6 299L445.8 296.2L448.2 293.4L450.5 290.7L452.5 287.9L454.4 285.1L456.3 282.4L458.3 279.6L460.7 276.8L463.2 274.1L465.9 271.3L468.6 268.5L471.2 265.8L473.7 263L476 260.2L478.2 257.4L480.3 254.7L482.3 251.9L484.2 249.1L486.1 246.4L488.1 243.6L489.7 240.8L490.6 238.1L491.1 235.3L491.7 232.5L492.2 229.8L492.8 227Z" fill="#1d9be6"/>
<path d="M485.5 227L484.1 229.8L482.7 232.5L481.4 235.3L480 238.1L478.2 240.8L475.8 243.6L473.3 246.4L471.1 249.1L469.4 251.9L468 254.7L466.6 257.4L465 260.2L463.1 263L461 265.8L458.6 268.5L456.2 271.3L453.6 274.1L451 276.8L448.4 279.6L445.7 282.4L442.9 285.1L440.1 287.9L437.3 290.7L434.5 293.4L431.7 296.2L429 299L426.3 301.7L423.7 304.5L421 307.3L418.4 310L415.9 312.8L413.5 315.6L411.3 318.3L409.2 321.1L407.3 323.9L405.6 326.7L403.9 329.4L402.3 332.2L400.6 335L398.9 337.7L397.1 340.5L395.1 343.3L393 346L390.9 348.8L388.9 351.6L387 354.3L385.2 357.1L383.1 359.9L380.8 362.6L378.2 365.4L375.5 368.2L372.7 370.9L369.9 373.7L367.2 376.5L364.7 379.2L362.3 382L360 384.8L357.7 387.6L355.5 390.3L353.4 393.1L351.3 395.9L349.1 398.6L346.8 401.4L345 404.2L344 406.9L343.5 409.7L342.9 412.5L342.4 415.2L341.8 418L346.8 418L348.5 415.2L350.1 412.5L351.8 409.7L353.4 406.9L355.1 404.2L356.7 401.4L358.3 398.6L360 395.9L361.9 393.1L363.9 390.3L366 387.6L368.1 384.8L370.4 382L372.6 379.2L374.9 376.5L377.3 373.7L379.7 370.9L382.2 368.2L384.8 365.4L387.4 362.6L390.1 359.9L393 357.1L396.1 354.3L399.3 351.6L402.3 348.8L405.5 346L408.6 343.3L411.5 340.5L414.3 337.7L417.1 335L419.9 332.2L422.5 329.4L425.1 326.7L427.3 323.9L429.3 321.1L430.9 318.3L432.3 315.6L433.4 312.8L434.5 310L435.6 307.3L436.7 304.5L438 301.7L439.7 299L441.8 296.2L444.2 293.4L446.5 290.7L448.5 287.9L450.4 285.1L452.3 282.4L454.3 279.6L456.6 276.8L459.1 274.1L461.7 271.3L464.4 268.5L467 265.8L469.4 263L471.7 260.2L473.8 257.4L475.8 254.7L477.8 251.9L479.8 249.1L482.1 246.4L484.7 243.6L486.8 240.8L488 238.1L488.5 235.3L489.2 232.5L489.8 229.8L490.4 227Z" fill="#26c4a0"/>
<path d="M438 295L436 300L431 310L426 320L418 330L409 340L398 348L393.5 350.5L395 346L401 340L407 330L413.6 320L423 310L432 300Z" fill="#8fcc48"/>
<circle cx="347.4" cy="404.6" r="0.9" fill="#4aa84a"/><circle cx="483.6" cy="240.6" r="0.9" fill="#4aa84a"/>
<path d="M408 334L410.1 331.4L412.1 328.8L414.2 326.3L416.3 323.7L418.3 321.1L420.4 318.5L422.4 315.9L424.5 313.3L426.5 310.8L426.8 310.3L426.8 309.7L426.5 309.3L426.1 308.9L425.6 308.8L425.1 308.9L424.7 309.2L422.5 311.8L420.4 314.3L418.3 316.8L416.2 319.4L414.1 321.9L411.9 324.4L409.8 326.9L407.7 329.5L405.6 332L405.2 332.6L405.2 333.3L405.5 334L406.1 334.4L406.8 334.6L407.5 334.4Z" fill="#ffc328"/>
</g>
<rect x="318.2" y="236.2" width="195.6" height="172.5" fill="none" stroke="#222" stroke-width="0.6"/>
<text x="336.5" y="418.6" font-size="6.7" text-anchor="middle" font-family="Liberation Serif,serif" font-weight="bold">-0.6</text>
<text x="364" y="418.6" font-size="6.7" text-anchor="middle" font-family="Liberation Serif,serif" font-weight="bold">-0.4</text>
<text x="391.5" y="418.6" font-size="6.7" text-anchor="middle" font-family="Liberation Serif,serif" font-weight="bold">-0.2</text>
<text x="417.2" y="418.6" font-size="6.7" text-anchor="middle" font-family="Liberation Serif,serif" font-weight="bold">0</text>
<text x="444.7" y="418.6" font-size="6.7" text-anchor="middle" font-family="Liberation Serif,serif" font-weight="bold">0.2</text>
<text x="472.2" y="418.6" font-size="6.7" text-anchor="middle" font-family="Liberation Serif,serif" font-weight="bold">0.4</text>
<text x="499.7" y="418.6" font-size="6.7" text-anchor="middle" font-family="Liberation Serif,serif" font-weight="bold">0.6</text>
<text x="316.4" y="402.8" font-size="6.7" text-anchor="end" font-family="Liberation Serif,serif" font-weight="bold">-0.8</text>
<text x="316.4" y="383.6" font-size="6.7" text-anchor="end" font-family="Liberation Serif,serif" font-weight="bold">-0.6</text>
<text x="316.4" y="364.4" font-size="6.7" text-anchor="end" font-family="Liberation Serif,serif" font-weight="bold">-0.4</text>
<text x="316.4" y="345.3" font-size="6.7" text-anchor="end" font-family="Liberation Serif,serif" font-weight="bold">-0.2</text>
<text x="316.4" y="326.1" font-size="6.7" text-anchor="end" font-family="Liberation Serif,serif" font-weight="bold">0</text>
<text x="316.4" y="306.9" font-size="6.7" text-anchor="end" font-family="Liberation Serif,serif" font-weight="bold">0.2</text>
<text x="316.4" y="287.8" font-size="6.7" text-anchor="end" font-family="Liberation Serif,serif" font-weight="bold">0.4</text>
<text x="316.4" y="268.6" font-size="6.7" text-anchor="end" font-family="Liberation Serif,serif" font-weight="bold">0.6</text>
<text x="316.4" y="249.4" font-size="6.7" text-anchor="end" font-family="Liberation Serif,serif" font-weight="bold">0.8</text>
<path d="M334.5 408.7v-1.6M334.5 236.2v1.6M362 408.7v-1.6M362 236.2v1.6M389.5 408.7v-1.6M389.5 236.2v1.6M417 408.7v-1.6M417 236.2v1.6M444.5 408.7v-1.6M444.5 236.2v1.6M472 408.7v-1.6M472 236.2v1.6M499.5 408.7v-1.6M499.5 236.2v1.6M318.2 399.3h1.6M513.8 399.3h-1.6M318.2 380.1h1.6M513.8 380.1h-1.6M318.2 360.9h1.6M513.8 360.9h-1.6M318.2 341.8h1.6M513.8 341.8h-1.6M318.2 322.6h1.6M513.8 322.6h-1.6M318.2 303.4h1.6M513.8 303.4h-1.6M318.2 284.3h1.6M513.8 284.3h-1.6M318.2 265.1h1.6M513.8 265.1h-1.6M318.2 245.9h1.6M513.8 245.9h-1.6" stroke="#222" stroke-width="0.5" fill="none"/>
<text x="423" y="430.2" font-size="6.5" text-anchor="middle" letter-spacing="0.32" font-family="Liberation Serif,serif" font-weight="bold">Normalized Doppler frequency</text>
<text transform="translate(299 323.4) rotate(-90)" font-size="6.5" text-anchor="middle" letter-spacing="0.32" stroke="#000" stroke-width="0.18" font-family="Liberation Serif,serif" font-weight="bold">Normalized Spatial frequency</text>
<rect x="519.5" y="236.2" width="11.2" height="172.5" fill="url(#par)" stroke="#222" stroke-width="0.6"/>
<text x="534.5" y="239" font-size="6.7" font-family="Liberation Serif,serif" font-weight="bold">0</text>
<text x="534.5" y="267" font-size="6.7" font-family="Liberation Serif,serif" font-weight="bold">-10</text>
<text x="534.5" y="295" font-size="6.7" font-family="Liberation Serif,serif" font-weight="bold">-20</text>
<text x="534.5" y="322.9" font-size="6.7" font-family="Liberation Serif,serif" font-weight="bold">-30</text>
<text x="534.5" y="350.9" font-size="6.7" font-family="Liberation Serif,serif" font-weight="bold">-40</text>
<text x="534.5" y="378.9" font-size="6.7" font-family="Liberation Serif,serif" font-weight="bold">-50</text>
<text x="534.5" y="406.9" font-size="6.7" font-family="Liberation Serif,serif" font-weight="bold">-60</text>
<path d="M530.7 236.2h-1.4M530.7 264.2h-1.4M530.7 292.2h-1.4M530.7 320.1h-1.4M530.7 348.1h-1.4M530.7 376.1h-1.4M530.7 404.1h-1.4" stroke="#222" stroke-width="0.5" fill="none"/>
<text x="418" y="453.7" font-size="13.5" text-anchor="middle" font-family="Liberation Serif,serif">(<tspan font-weight="bold">d</tspan>)</text>
<clipPath id="cle"><rect x="28" y="466.2" width="204.1" height="179.4"/></clipPath>
<rect x="28" y="466.2" width="204.1" height="179.4" fill="#4122ab"/>
<g clip-path="url(#cle)" stroke="#000" stroke-opacity="0.72" stroke-width="0.5" stroke-linejoin="round">
<path d="M185.7 463L183.3 465.8L181 468.6L178.7 471.4L176.4 474.2L174.1 477L171.8 479.8L169.5 482.6L167.2 485.4L164.8 488.2L162.3 491L159.8 493.8L157.3 496.6L154.6 499.4L152 502.2L149.2 505L146.2 507.8L143.2 510.6L139.7 513.3L135.9 516.1L131.9 518.9L127.9 521.7L124 524.5L120.6 527.3L117.7 530.1L115.3 532.9L113.3 535.7L111.3 538.5L109.2 541.3L107.1 544.1L104.9 546.9L102.8 549.7L100.5 552.5L98.4 555.3L96.8 558.1L95.5 560.9L94.2 563.7L92.7 566.5L91.2 569.3L89.9 572.1L88.9 574.9L88 577.7L86.9 580.5L85.4 583.3L83.7 586.1L81.8 588.9L79.8 591.7L77.6 594.5L75.4 597.3L73.2 600.1L71 602.9L68.7 605.7L66.2 608.4L63.7 611.2L61.1 614L58.6 616.8L56.2 619.6L53.9 622.4L51.8 625.2L49.8 628L47.8 630.8L45.9 633.6L44.1 636.4L42.6 639.2L41.5 642L40.7 644.8L40.1 647.6L39.4 650.4L38.7 653.2L38 656L70.5 656L72.6 653.2L74.7 650.4L76.8 647.6L78.9 644.8L81 642L83.3 639.2L85.7 636.4L88.2 633.6L90.8 630.8L93.3 628L95.8 625.2L98.2 622.4L100.5 619.6L102.8 616.8L105.1 614L107.4 611.2L109.8 608.4L112.3 605.7L115.1 602.9L118 600.1L121.6 597.3L125.6 594.5L129.8 591.7L134.1 588.9L138.1 586.1L141.8 583.3L144.9 580.5L147.3 577.7L149.4 574.9L151.3 572.1L153.4 569.3L155.5 566.5L157.5 563.7L159.7 560.9L161.9 558.1L163.7 555.3L165.1 552.5L166.3 549.7L167.6 546.9L168.9 544.1L170.3 541.3L171.6 538.5L172.8 535.7L174.1 532.9L175.5 530.1L177.3 527.3L179.3 524.5L181.5 521.7L183.9 518.9L186.3 516.1L188.6 513.3L190.9 510.6L193 507.8L195.2 505L197.3 502.2L199.4 499.4L201.5 496.6L203.6 493.8L205.6 491L207.6 488.2L209.5 485.4L211.4 482.6L213.2 479.8L215 477L216.9 474.2L218.7 471.4L220.6 468.6L222.5 465.8L224.3 463Z" fill="#472dca"/>
<path d="M199.7 463L197.4 465.8L195 468.6L192.7 471.4L190.3 474.2L187.9 477L185.5 479.8L183.2 482.6L180.8 485.4L178.5 488.2L176.2 491L174.1 493.8L172 496.6L169.9 499.4L167.8 502.2L165.6 505L163.3 507.8L160.8 510.6L158.1 513.3L155.1 516.1L152 518.9L148.8 521.7L145.5 524.5L142.2 527.3L138.9 530.1L135.5 532.9L131.9 535.7L128.5 538.5L125.6 541.3L123 544.1L120.6 546.9L118.3 549.7L116.2 552.5L114.1 555.3L112 558.1L110 560.9L108.2 563.7L107.1 566.5L106.1 569.3L105.2 572.1L104.1 574.9L102.9 577.7L101.6 580.5L100 583.3L98.2 586.1L96.2 588.9L94.1 591.7L91.9 594.5L89.7 597.3L87.5 600.1L85.2 602.9L82.7 605.7L80.1 608.4L77.4 611.2L74.7 614L72 616.8L69.4 619.6L67 622.4L64.8 625.2L62.8 628L60.9 630.8L59.1 633.6L57.4 636.4L55.7 639.2L54 642L52.3 644.8L50.7 647.6L49.1 650.4L47.5 653.2L45.8 656L57.5 656L59.6 653.2L61.7 650.4L63.8 647.6L65.9 644.8L68 642L70.2 639.2L72.5 636.4L74.8 633.6L77.2 630.8L79.5 628L81.8 625.2L84 622.4L86.2 619.6L88.3 616.8L90.4 614L92.5 611.2L94.7 608.4L97 605.7L99.3 602.9L101.7 600.1L104.2 597.3L106.8 594.5L109.4 591.7L112.1 588.9L115 586.1L118.1 583.3L121.4 580.5L125.4 577.7L129.9 574.9L134 572.1L137.2 569.3L139.9 566.5L142.1 563.7L143.8 560.9L145.2 558.1L146.7 555.3L148.5 552.5L150.3 549.7L152 546.9L153.7 544.1L155.2 541.3L156.3 538.5L157 535.7L157.7 532.9L158.6 530.1L160.1 527.3L162.1 524.5L164.6 521.7L167.3 518.9L170.1 516.1L172.9 513.3L175.5 510.6L177.9 507.8L180.4 505L182.8 502.2L185.2 499.4L187.6 496.6L190 493.8L192.2 491L194.4 488.2L196.5 485.4L198.6 482.6L200.6 479.8L202.7 477L204.7 474.2L206.7 471.4L208.8 468.6L210.8 465.8L212.9 463Z" fill="#475df9"/>
<path d="M203.7 463L201.4 465.8L199 468.6L196.7 471.4L194.3 474.2L191.9 477L189.6 479.8L187.2 482.6L184.9 485.4L182.5 488.2L180.2 491L177.9 493.8L175.6 496.6L173.4 499.4L171.1 502.2L168.8 505L166.5 507.8L164 510.6L161.5 513.3L159 516.1L156.4 518.9L153.8 521.7L151.1 524.5L148.3 527.3L145.5 530.1L142.4 532.9L139.2 535.7L136.1 538.5L133.2 541.3L130.4 544.1L127.8 546.9L125.3 549.7L123 552.5L120.8 555.3L118.5 558.1L116.2 560.9L114.3 563.7L112.9 566.5L111.8 569.3L110.6 572.1L109.1 574.9L107.6 577.7L105.9 580.5L104.1 583.3L102.3 586.1L100.3 588.9L98.3 591.7L96.2 594.5L94.1 597.3L91.9 600.1L89.6 602.9L87.1 605.7L84.5 608.4L81.8 611.2L79.1 614L76.3 616.8L73.7 619.6L71.2 622.4L68.8 625.2L66.6 628L64.5 630.8L62.4 633.6L60.4 636.4L58.4 639.2L56.5 642L54.6 644.8L52.9 647.6L51 650.4L49.2 653.2L47.4 656L54.3 656L56.4 653.2L58.6 650.4L60.7 647.6L62.8 644.8L65 642L67.1 639.2L69.2 636.4L71.4 633.6L73.5 630.8L75.6 628L77.8 625.2L80 622.4L82.2 619.6L84.5 616.8L86.7 614L89 611.2L91.3 608.4L93.7 605.7L96 602.9L98.4 600.1L100.7 597.3L103.1 594.5L105.4 591.7L107.8 588.9L110.4 586.1L113.1 583.3L116 580.5L119.4 577.7L123.3 574.9L126.9 572.1L129.9 569.3L132.6 566.5L135.1 563.7L137.3 560.9L139.4 558.1L141.4 555.3L143.2 552.5L144.9 549.7L146.5 546.9L147.8 544.1L149.2 541.3L150.5 538.5L151.8 535.7L153.2 532.9L154.8 530.1L156.7 527.3L158.9 524.5L161.3 521.7L163.9 518.9L166.5 516.1L169.2 513.3L171.7 510.6L174.2 507.8L176.7 505L179.3 502.2L181.9 499.4L184.4 496.6L186.8 493.8L189.2 491L191.4 488.2L193.6 485.4L195.7 482.6L197.7 479.8L199.7 477L201.7 474.2L203.7 471.4L205.8 468.6L207.8 465.8L209.9 463Z" fill="#238df1"/>
<path d="M206 463L203.8 465.8L201.5 468.6L199.3 471.4L197 474.2L194.8 477L192.6 479.8L190.4 482.6L188.1 485.4L185.8 488.2L183.5 491L181.1 493.8L178.7 496.6L176.2 499.4L173.7 502.2L171.2 505L168.7 507.8L166.2 510.6L163.7 513.3L161.3 516.1L158.8 518.9L156.4 521.7L153.8 524.5L151.2 527.3L148.5 530.1L145.5 532.9L142.4 535.7L139.3 538.5L136.5 541.3L133.8 544.1L131.3 546.9L128.8 549.7L126.3 552.5L124 555.3L121.7 558.1L119.5 560.9L117.6 563.7L116.1 566.5L114.7 569.3L113.4 572.1L111.8 574.9L110.1 577.7L108.3 580.5L106.4 583.3L104.5 586.1L102.5 588.9L100.5 591.7L98.4 594.5L96.2 597.3L94 600.1L91.8 602.9L89.4 605.7L86.9 608.4L84.3 611.2L81.8 614L79.2 616.8L76.6 619.6L74.2 622.4L71.8 625.2L69.5 628L67.3 630.8L65.1 633.6L63 636.4L60.9 639.2L58.8 642L56.8 644.8L54.9 647.6L52.9 650.4L51 653.2L49 656L51.5 656L53.6 653.2L55.6 650.4L57.7 647.6L59.7 644.8L61.8 642L64 639.2L66.2 636.4L68.5 633.6L70.8 630.8L73.1 628L75.4 625.2L77.7 622.4L80.1 619.6L82.5 616.8L84.9 614L87.3 611.2L89.7 608.4L92.1 605.7L94.4 602.9L96.8 600.1L99 597.3L101.1 594.5L103.2 591.7L105.3 588.9L107.6 586.1L110 583.3L112.8 580.5L116.3 577.7L120.5 574.9L124.2 572.1L127 569.3L129.4 566.5L131.8 563.7L134 560.9L136.1 558.1L138.1 555.3L139.9 552.5L141.6 549.7L143.2 546.9L144.5 544.1L145.8 541.3L147.3 538.5L148.9 535.7L150.7 532.9L152.6 530.1L154.7 527.3L157 524.5L159.4 521.7L161.9 518.9L164.5 516.1L167 513.3L169.5 510.6L172 507.8L174.5 505L177 502.2L179.6 499.4L182 496.6L184.5 493.8L186.8 491L189 488.2L191.2 485.4L193.2 482.6L195.3 479.8L197.3 477L199.3 474.2L201.3 471.4L203.4 468.6L205.4 465.8L207.5 463Z" fill="#0eb1cf"/>
<path d="M148.4 533.6L144.4 540L140.4 548L135.4 556L128.8 564L121.5 572L112 576.4L115.5 572L119.9 564L126.2 556L132.8 548L140 540Z" fill="#1ec295"/>
<path d="M141.8 541L138.3 548L133.3 556L126.1 564L118.2 568.2L122.3 564L128.6 556L135 548Z" fill="#86c84e"/>
<path d="M123 563.6L127 559.4L130.6 555.6L134.4 550.4L137.8 545" fill="none" stroke="#f0c832" stroke-width="1" stroke-linecap="round"/>
</g>
<rect x="28" y="466.2" width="204.1" height="179.4" fill="none" stroke="#222" stroke-width="0.6"/>
<text x="48.4" y="656" font-size="6.97" text-anchor="middle" font-family="Liberation Serif,serif" font-weight="bold">-0.6</text>
<text x="76.6" y="656" font-size="6.97" text-anchor="middle" font-family="Liberation Serif,serif" font-weight="bold">-0.4</text>
<text x="104.8" y="656" font-size="6.97" text-anchor="middle" font-family="Liberation Serif,serif" font-weight="bold">-0.2</text>
<text x="131.2" y="656" font-size="6.97" text-anchor="middle" font-family="Liberation Serif,serif" font-weight="bold">0</text>
<text x="159.4" y="656" font-size="6.97" text-anchor="middle" font-family="Liberation Serif,serif" font-weight="bold">0.2</text>
<text x="187.6" y="656" font-size="6.97" text-anchor="middle" font-family="Liberation Serif,serif" font-weight="bold">0.4</text>
<text x="215.8" y="656" font-size="6.97" text-anchor="middle" font-family="Liberation Serif,serif" font-weight="bold">0.6</text>
<text x="26.5" y="638.6" font-size="6.97" text-anchor="end" font-family="Liberation Serif,serif" font-weight="bold">-0.8</text>
<text x="26.5" y="618.7" font-size="6.97" text-anchor="end" font-family="Liberation Serif,serif" font-weight="bold">-0.6</text>
<text x="26.5" y="598.8" font-size="6.97" text-anchor="end" font-family="Liberation Serif,serif" font-weight="bold">-0.4</text>
<text x="26.5" y="578.8" font-size="6.97" text-anchor="end" font-family="Liberation Serif,serif" font-weight="bold">-0.2</text>
<text x="26.5" y="558.9" font-size="6.97" text-anchor="end" font-family="Liberation Serif,serif" font-weight="bold">0</text>
<text x="26.5" y="539" font-size="6.97" text-anchor="end" font-family="Liberation Serif,serif" font-weight="bold">0.2</text>
<text x="26.5" y="519" font-size="6.97" text-anchor="end" font-family="Liberation Serif,serif" font-weight="bold">0.4</text>
<text x="26.5" y="499.1" font-size="6.97" text-anchor="end" font-family="Liberation Serif,serif" font-weight="bold">0.6</text>
<text x="26.5" y="479.2" font-size="6.97" text-anchor="end" font-family="Liberation Serif,serif" font-weight="bold">0.8</text>
<path d="M46.4 645.6v-1.6M46.4 466.2v1.6M74.6 645.6v-1.6M74.6 466.2v1.6M102.8 645.6v-1.6M102.8 466.2v1.6M131 645.6v-1.6M131 466.2v1.6M159.2 645.6v-1.6M159.2 466.2v1.6M187.4 645.6v-1.6M187.4 466.2v1.6M215.6 645.6v-1.6M215.6 466.2v1.6M28 635.1h1.6M232.1 635.1h-1.6M28 615.2h1.6M232.1 615.2h-1.6M28 595.3h1.6M232.1 595.3h-1.6M28 575.3h1.6M232.1 575.3h-1.6M28 555.4h1.6M232.1 555.4h-1.6M28 535.5h1.6M232.1 535.5h-1.6M28 515.5h1.6M232.1 515.5h-1.6M28 495.6h1.6M232.1 495.6h-1.6M28 475.7h1.6M232.1 475.7h-1.6" stroke="#222" stroke-width="0.5" fill="none"/>
<text x="133.8" y="665.5" font-size="6.76" text-anchor="middle" letter-spacing="0.32" font-family="Liberation Serif,serif" font-weight="bold">Normalized Doppler frequency</text>
<text transform="translate(13.8 555.9) rotate(-90)" font-size="6.76" text-anchor="middle" letter-spacing="0.32" stroke="#000" stroke-width="0.18" font-family="Liberation Serif,serif" font-weight="bold">Normalized Spatial frequency</text>
<rect x="237.3" y="466.2" width="11.6" height="179.4" fill="url(#par)" stroke="#222" stroke-width="0.6"/>
<text x="252.7" y="469" font-size="6.97" font-family="Liberation Serif,serif" font-weight="bold">0</text>
<text x="252.7" y="493.9" font-size="6.97" font-family="Liberation Serif,serif" font-weight="bold">-10</text>
<text x="252.7" y="518.8" font-size="6.97" font-family="Liberation Serif,serif" font-weight="bold">-20</text>
<text x="252.7" y="543.7" font-size="6.97" font-family="Liberation Serif,serif" font-weight="bold">-30</text>
<text x="252.7" y="568.6" font-size="6.97" font-family="Liberation Serif,serif" font-weight="bold">-40</text>
<text x="252.7" y="593.5" font-size="6.97" font-family="Liberation Serif,serif" font-weight="bold">-50</text>
<text x="252.7" y="618.4" font-size="6.97" font-family="Liberation Serif,serif" font-weight="bold">-60</text>
<text x="252.7" y="643.3" font-size="6.97" font-family="Liberation Serif,serif" font-weight="bold">-70</text>
<path d="M248.9 466.2h-1.4M248.9 491.1h-1.4M248.9 516h-1.4M248.9 540.9h-1.4M248.9 565.8h-1.4M248.9 590.7h-1.4M248.9 615.6h-1.4M248.9 640.5h-1.4" stroke="#222" stroke-width="0.5" fill="none"/>
<text x="134.4" y="688.8" font-size="13.5" text-anchor="middle" font-family="Liberation Serif,serif">(<tspan font-weight="bold">e</tspan>)</text>
<circle cx="261" cy="434.6" r="0.55" fill="#9a9a9a"/>
</svg>
</body></html>
